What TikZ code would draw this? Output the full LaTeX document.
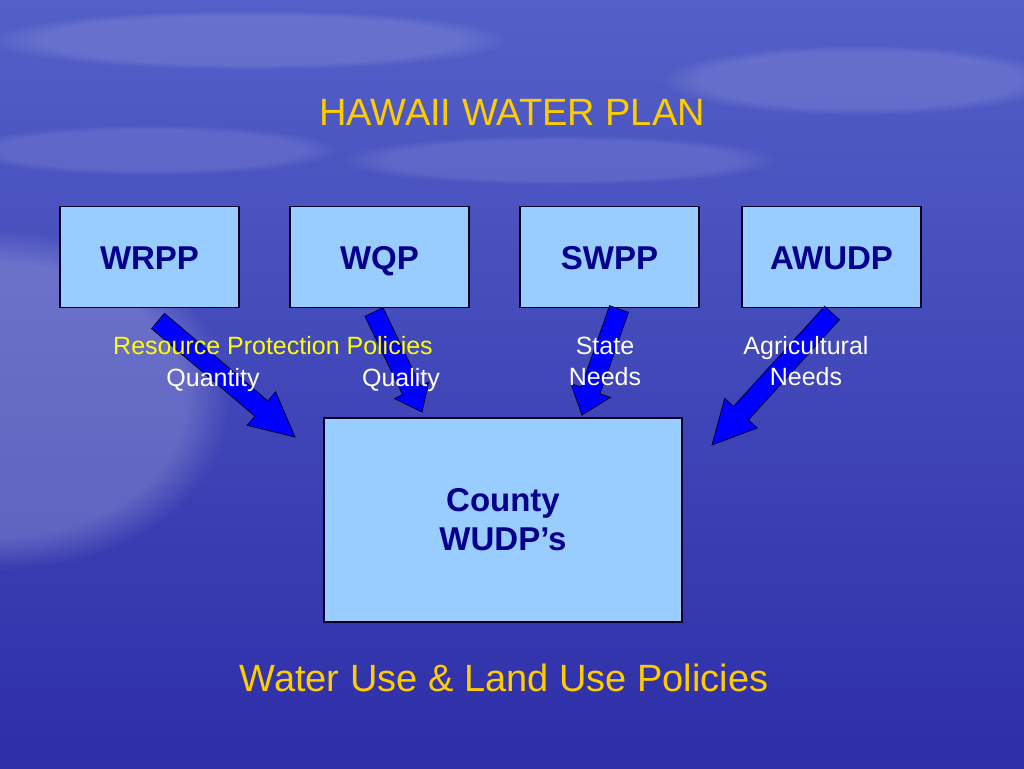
\documentclass[tikz,border=0pt]{standalone}
\usepackage{fontspec}
\setmainfont{Liberation Sans}
\usetikzlibrary{positioning}
\usetikzlibrary{calc, fadings}

\definecolor{boxblue}{RGB}{153,204,255}
\definecolor{boxnavy}{RGB}{0,0,140}
\definecolor{titlegold}{RGB}{255,204,0}
\definecolor{policyyellow}{RGB}{255,255,0}
\definecolor{seatop}{RGB}{84,96,200}
\definecolor{seamid}{RGB}{66,74,188}
\definecolor{seabot}{RGB}{46,46,168}

\begin{document}
\begin{tikzpicture}[x=1pt,y=-1pt,
  planbox/.style={rectangle,draw=black!85!blue,line width=1.4pt,fill=boxblue,
    minimum width=179pt,minimum height=101pt,inner sep=0pt,
    font=\fontsize{33}{39}\selectfont\bfseries,text=boxnavy,align=center},
  capline/.style={text height=24pt,text depth=0pt},
  feed/.style={fill=blue,draw=black!80!blue,line width=0.8pt,line join=miter},
  haze/.style={fill=white,path fading=circle with fuzzy edge 20 percent},
  lbl/.style={font=\fontsize{25}{31}\selectfont,text=white,align=center}]
\useasboundingbox (0,0) rectangle (1024,768);

% sea and sky
\shade[top color=seatop,middle color=seamid,bottom color=seabot] (0,0) rectangle (1024,768);
\fill[haze,opacity=0.20] (0,400) ellipse (230 and 170);
\fill[haze,opacity=0.12] (250,40) ellipse (260 and 30);
\fill[haze,opacity=0.12] (860,80) ellipse (200 and 35);
\fill[haze,opacity=0.10] (150,150) ellipse (190 and 25);
\fill[haze,opacity=0.10] (560,160) ellipse (220 and 25);

\node[font=\fontsize{38}{45}\selectfont,text=titlegold] (title) at (512,112) {HAWAII WATER PLAN};

% plans
\node[planbox,capline] (wrpp) at (149.5,257) {WRPP};
\node[planbox,capline] (wqp) at (379.5,257) {WQP};
\node[planbox,capline] (swpp) at (609.5,257) {SWPP};
\node[planbox,capline] (awudp) at (831.5,257) {AWUDP};
\node[planbox,minimum width=358pt,minimum height=204pt] (county) at (503,520) {County\\WUDP’s};

% block arrows
\coordinate (t1) at (158,321); \coordinate (p1) at (295,437);
\coordinate (t2) at (374,312); \coordinate (p2) at (422,412);
\coordinate (t3) at (619,309); \coordinate (p3) at (582,415);
\coordinate (t4) at (832,313); \coordinate (p4) at (712,445);
\foreach \s/\e/\hl/\hw in {t1/p1/44/22, t2/p2/24/19, t3/p3/26/21, t4/p4/43/22} {
  \coordinate (h) at ($(\e)!\hl pt!(\s)$);
  \draw[feed] ($(\s)!10pt!90:(\e)$) -- ($(h)!10pt!90:(\e)$) -- ($(h)!\hw pt!90:(\e)$) -- (\e)
    -- ($(h)!\hw pt!-90:(\e)$) -- ($(h)!10pt!-90:(\e)$) -- ($(\s)!10pt!-90:(\e)$) -- cycle;
}

\node[lbl,text=policyyellow] (rpp) at (273,346) {Resource Protection Policies};
\node[lbl] (quantity) at (213,380) {Quantity};
\node[lbl] (quality) at (401,380) {Quality};
\node[lbl] (state) at (605,361.5) {State\\Needs};
\node[lbl] (agri) at (806,361.5) {Agricultural\\Needs};

\node[font=\fontsize{38}{45}\selectfont,text=titlegold] (landuse) at (504,678) {Water Use \& Land Use Policies};

\end{tikzpicture}
\end{document}
